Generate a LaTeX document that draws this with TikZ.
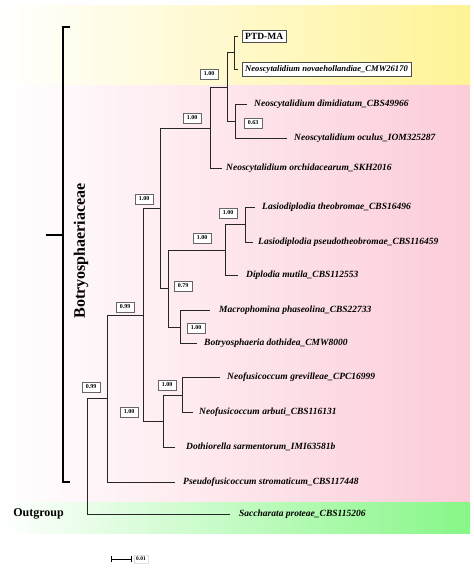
\documentclass[tikz,border=0pt]{standalone}
\usepackage{fontspec}
\setmainfont{Liberation Serif}
\usetikzlibrary{positioning}

\definecolor{bandyellow}{RGB}{255,243,150}
\definecolor{bandpink}{RGB}{252,204,216}
\definecolor{bandgreen}{RGB}{135,247,135}

\tikzset{
  taxon/.style={font=\fontsize{9.5}{11}\selectfont\bfseries\itshape, inner sep=0pt},
  boxtaxon/.style={draw=black!70, fill=white, inner sep=3pt, font=\fontsize{9.5}{11}\selectfont\bfseries},
  support/.style={draw=black!60, fill=white, font=\fontsize{6}{7}\selectfont\bfseries, inner xsep=4pt, inner ysep=3pt},
  branch/.style={line width=0.9pt, black!85},
}

\begin{document}
\begin{tikzpicture}[x=1pt, y=-1pt, line join=miter]
  \useasboundingbox (0,0) rectangle (474,568);

  % Coloured bands behind the tree
  \shade[left color=white, right color=bandyellow] (0,5) rectangle (470,85);
  \shade[left color=white, right color=bandpink] (0,85) rectangle (470,502);
  \shade[left color=white, right color=bandgreen] (0,502) rectangle (470,533);

  % Internal nodes (x of the split, y midway between children)
  \coordinate (n1) at (234,52);
  \coordinate (n2) at (235,121);
  \coordinate (n3) at (227,87);
  \coordinate (n4) at (210,128);
  \coordinate (n5) at (160,208);
  \coordinate (n6) at (168,288);
  \coordinate (n7) at (245,224);
  \coordinate (n8) at (225,250);
  \coordinate (n9) at (180,327);
  \coordinate (n10) at (182,395);
  \coordinate (n11) at (163,421);
  \coordinate (n12) at (143,315);
  \coordinate (n13) at (107,398);
  \coordinate (root) at (87,456);

  % Leaf tips
  \coordinate (l1) at (238,36);
  \coordinate (l2) at (238,69);
  \coordinate (l3) at (247,104);
  \coordinate (l4) at (287,138);
  \coordinate (l5) at (222,168);
  \coordinate (l6) at (255,207);
  \coordinate (l7) at (253,242);
  \coordinate (l8) at (238,275);
  \coordinate (l9) at (210,310);
  \coordinate (l10) at (197,343);
  \coordinate (l11) at (220,377);
  \coordinate (l12) at (193,412);
  \coordinate (l13) at (175,447);
  \coordinate (l14) at (175,482);
  \coordinate (l15) at (230,514);

  % Branches
  \draw[branch] (n1) |- (l1);
  \draw[branch] (n1) |- (l2);
  \draw[branch] (n2) |- (l3);
  \draw[branch] (n2) |- (l4);
  \draw[branch] (n3) |- (n1);
  \draw[branch] (n3) |- (n2);
  \draw[branch] (n4) |- (n3);
  \draw[branch] (n4) |- (l5);
  \draw[branch] (n5) |- (n4);
  \draw[branch] (n5) |- (n6);
  \draw[branch] (n7) |- (l6);
  \draw[branch] (n7) |- (l7);
  \draw[branch] (n8) |- (n7);
  \draw[branch] (n8) |- (l8);
  \draw[branch] (n9) |- (l9);
  \draw[branch] (n9) |- (l10);
  \draw[branch] (n6) |- (n8);
  \draw[branch] (n6) |- (n9);
  \draw[branch] (n10) |- (l11);
  \draw[branch] (n10) |- (l12);
  \draw[branch] (n11) |- (n10);
  \draw[branch] (n11) |- (l13);
  \draw[branch] (n12) |- (n5);
  \draw[branch] (n12) |- (n11);
  \draw[branch] (n13) |- (n12);
  \draw[branch] (n13) |- (l14);
  \draw[branch] (root) |- (n13);
  \draw[branch] (root) |- (l15);

  % Taxon names
  \node[boxtaxon, right=4pt of l1] (t1) {PTD-MA};
  \node[boxtaxon, right=4pt of l2, font=\fontsize{8.6}{10}\selectfont\bfseries\itshape] (t2) {Neoscytalidium novaehollandiae\_CMW26170};
  \node[taxon, right=7pt of l3] (t3) {Neoscytalidium dimidiatum\_CBS49966};
  \node[taxon, right=7pt of l4] (t4) {Neoscytalidium oculus\_IOM325287};
  \node[taxon, right=4pt of l5] (t5) {Neoscytalidium orchidacearum\_SKH2016};
  \node[taxon, right=7pt of l6] (t6) {Lasiodiplodia theobromae\_CBS16496};
  \node[taxon, right=5pt of l7] (t7) {Lasiodiplodia pseudotheobromae\_CBS116459};
  \node[taxon, right=8pt of l8] (t8) {Diplodia mutila\_CBS112553};
  \node[taxon, right=9pt of l9] (t9) {Macrophomina phaseolina\_CBS22733};
  \node[taxon, right=7pt of l10] (t10) {Botryosphaeria dothidea\_CMW8000};
  \node[taxon, right=7pt of l11] (t11) {Neofusicoccum grevilleae\_CPC16999};
  \node[taxon, right=6pt of l12] (t12) {Neofusicoccum arbuti\_CBS116131};
  \node[taxon, right=11pt of l13] (t13) {Dothiorella sarmentorum\_IMI63581b};
  \node[taxon, right=8pt of l14] (t14) {Pseudofusicoccum stromaticum\_CBS117448};
  \node[taxon, right=9pt of l15] (t15) {Saccharata proteae\_CBS115206};

  % Support values
  \node[support] (s3) at (209,74) {1.00};
  \node[support] (s4) at (192,118) {1.00};
  \node[support] (s2) at (253,123) {0.63};
  \node[support] (s5) at (144,199) {1.00};
  \node[support] (s7) at (228,213) {1.00};
  \node[support] (s8) at (202,238) {1.00};
  \node[support] (s6) at (183,286) {0.79};
  \node[support] (s12) at (125,307) {0.99};
  \node[support] (s9) at (196,328) {1.00};
  \node[support] (s10) at (167,385) {1.00};
  \node[support] (s13) at (91,387) {0.99};
  \node[support] (s11) at (129,412) {1.00};

  % Family bracket
  \coordinate (brtop) at (70,27);
  \coordinate (brbot) at (70,482);
  \coordinate (brmid) at (63,235);
  \coordinate (brtick) at (46,235);
  \draw[line width=2.4pt, line join=miter] (brtop) -| (brmid) |- (brbot);
  \draw[line width=2.4pt] (brmid) -- (brtick);
  \node[rotate=90, font=\fontsize{16}{18}\selectfont\bfseries] (fam) at (81,251) {Botryosphaeriaceae};
  \node[font=\fontsize{12}{14}\selectfont\bfseries] (out) at (38.5,514) {Outgroup};

  % Scale bar
  \coordinate (sb1) at (111,559);
  \coordinate (sb2) at (131,559);
  \draw[line width=0.7pt] (sb1) -- (sb2);
  \draw[line width=0.7pt] ([yshift=-3]sb1) -- ([yshift=3]sb1);
  \draw[line width=0.7pt] ([yshift=-3]sb2) -- ([yshift=3]sb2);
  \node[draw=black!12, inner sep=2pt, font=\fontsize{5.5}{6}\selectfont\bfseries, right=3pt of sb2] (sbl) {0.01};
\end{tikzpicture}
\end{document}
